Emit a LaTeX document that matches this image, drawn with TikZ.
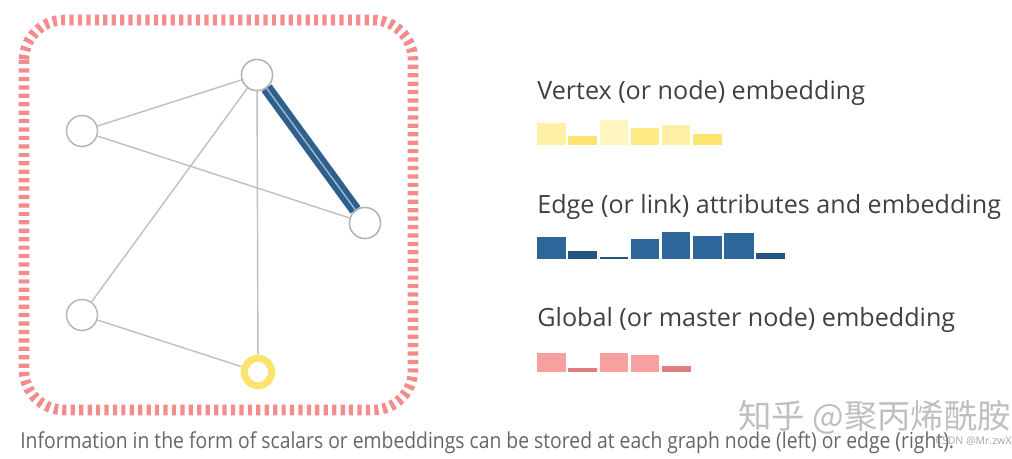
\documentclass[tikz,border=0pt]{standalone}
\usepackage{fontspec}
\setmainfont{Open Sans}
\newfontfamily\cjk{Noto Sans CJK SC}
\begin{document}
\begin{tikzpicture}[x=0.02cm,y=-0.02cm,
  gn/.style={circle,draw=gray!60,fill=white,line width=0.8pt,minimum size=0.62cm,inner sep=0},
  ge/.style={draw=gray!50,line width=0.8pt},
  lab/.style={anchor=west,font=\fontsize{14.3}{17}\selectfont,text=black!75,inner sep=0}]
\useasboundingbox (0,0) rectangle (1012,459);
\draw[color={rgb,255:red,244;green,140;blue,140},line width=6pt,dash pattern=on 2.4pt off 2.4pt,rounded corners=0.8cm] (24,20) rectangle (413,410);
\node[gn] (t) at (257,75) {};
\node[gn] (l) at (82,131) {};
\node[gn] (r) at (365,223) {};
\node[gn] (bl) at (82,315) {};
\node[circle,draw={rgb,255:red,250;green,228;blue,110},line width=4pt,fill=white,minimum size=0.55cm,inner sep=0] (y) at (258,372) {};
\draw[ge] (t) -- (l);
\draw[ge] (l) -- (r);
\draw[ge] (t) -- (bl);
\draw[ge] (t) -- (y);
\draw[ge] (bl) -- (y);
\draw[line width=7pt,color={rgb,255:red,47;green,95;blue,140}] (t) -- (r);
\draw[line width=0.8pt,color={rgb,255:red,160;green,185;blue,210}] (t) -- (r);
\node[gn] at (t) {};
\node[gn] at (r) {};
\node[lab] (v) at (537,93) {Vertex (or node) embedding};
\node[lab] (e) at (537,207) {Edge (or link) attributes and embedding};
\node[lab] (g) at (537,320) {Global (or master node) embedding};
\definecolor{y1}{RGB}{255,240,165}\definecolor{y2}{RGB}{253,228,110}\definecolor{y3}{RGB}{255,245,190}\definecolor{y4}{RGB}{254,234,130}
\fill[y1] (537,123) rectangle (566,145);
\fill[y2] (568,136) rectangle (597,145);
\fill[y3] (600,120) rectangle (628,145);
\fill[y4] (631,128) rectangle (659,145);
\fill[y1] (662,125) rectangle (690,145);
\fill[y2] (693,134) rectangle (722,145);
\definecolor{b1}{RGB}{47,102,153}\definecolor{b2}{RGB}{38,84,128}
\fill[b1] (537,237) rectangle (566,259);
\fill[b2] (568,251) rectangle (597,259);
\fill[b2] (600,257) rectangle (628,259);
\fill[b1] (631,239) rectangle (659,259);
\fill[b1] (662,232) rectangle (690,259);
\fill[b1] (693,236) rectangle (722,259);
\fill[b1] (724,233) rectangle (754,259);
\fill[b2] (756,253) rectangle (785,259);
\definecolor{p1}{RGB}{247,160,160}\definecolor{p2}{RGB}{224,125,125}
\fill[p1] (537,353) rectangle (566,372);
\fill[p2] (568,368) rectangle (597,372);
\fill[p1] (600,353) rectangle (628,372);
\fill[p1] (631,355) rectangle (659,372);
\fill[p2] (662,366) rectangle (691,372);
\node[anchor=west,inner sep=0,font=\fontsize{12.5}{15}\selectfont,text=black!60] (cap) at (20,443) {\scalebox{0.88}[1]{Information in the form of scalars or embeddings can be stored at each graph node (left) or edge (right).}};
\node[anchor=west,inner sep=0,font=\cjk\fontsize{19}{22}\selectfont,text=black!25] (wm) at (738,417) {知乎 @聚丙烯酰胺};
\node[anchor=west,inner sep=0,font=\fontsize{6}{7}\selectfont,text=black!35] (wm2) at (935,441) {CSDN @Mr.zwX};
\end{tikzpicture}
\end{document}
